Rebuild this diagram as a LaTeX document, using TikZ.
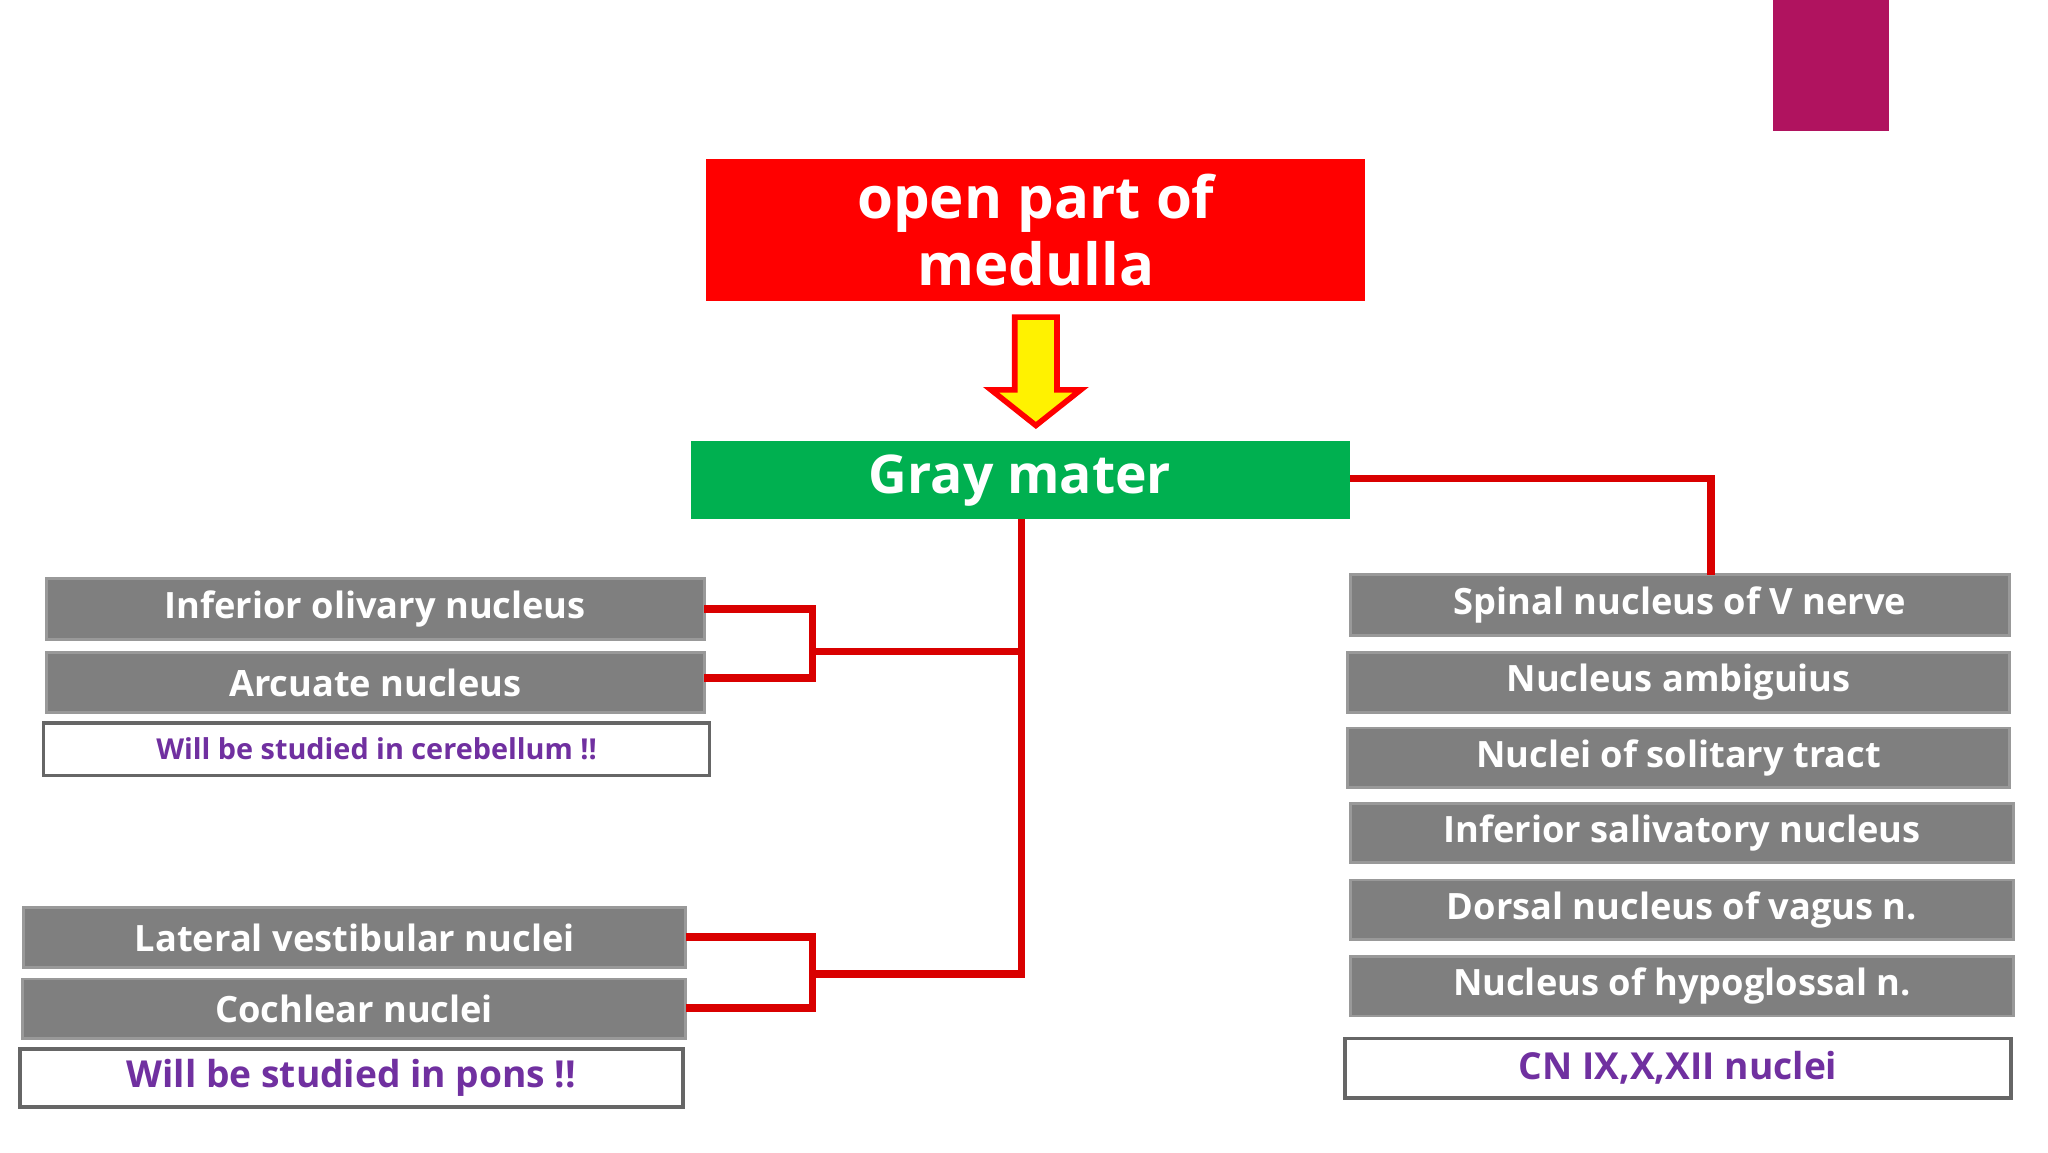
\documentclass[tikz,border=0pt]{standalone}
\usepackage{fontspec}
\setmainfont{Open Sans}
\definecolor{mag}{HTML}{B0135F}
\definecolor{gbox}{HTML}{7F7F7F}
\definecolor{grn}{HTML}{00B050}
\definecolor{pur}{HTML}{7030A0}
\begin{document}
\begin{tikzpicture}[x=0.01cm,y=-0.01cm,
  gb/.style={fill=gbox,draw=gbox!80!white,line width=0.6pt,text=white,font=\fontsize{7.8}{10}\selectfont\bfseries},
  wb/.style={fill=white,draw=gbox!80!black,line width=0.8pt,text=pur,font=\bfseries},
  ln/.style={draw=red!85!black,line width=1.6pt}]
\useasboundingbox (0,0) rectangle (1550,872);
\fill[mag] (1342,0) rectangle (1430,99);
\newcommand\bx[7]{\path[#1] (#2,#3) rectangle (#4,#5); \node[#1,draw=none,fill=none,inner sep=0] (#6) at ({(#2+#4)/2},{(#3+#5)/2}) {#7};}
\fill[red] (534,120) rectangle (1033,228);
\node[text=white,font=\fontsize{12.5}{14.5}\selectfont\bfseries,align=center] (top) at (784,174) {open part of\\medulla};
\draw[red,fill=yellow,line width=1.2pt] (768,240) -- (800,240) -- (800,295) -- (818,295) -- (784,322) -- (750,295) -- (768,295) -- cycle;
\coordinate (arr) at (784,322);
\fill[grn] (523,334) rectangle (1022,393);
\node[text=white,font=\fontsize{11.5}{14}\selectfont\bfseries] (gm) at (772,364) {Gray mater};
\bx{gb}{35}{438}{533}{484}{a}{Inferior olivary nucleus}
\bx{gb}{35}{494}{533}{539}{b}{Arcuate nucleus}
\bx{wb,font=\fontsize{6.2}{8}\selectfont\bfseries}{33}{547}{537}{587}{c}{Will be studied in cerebellum !!}
\bx{gb}{18}{687}{519}{732}{d}{Lateral vestibular nuclei}
\bx{gb}{17}{741}{519}{786}{e}{Cochlear nuclei}
\bx{wb,font=\fontsize{8}{10}\selectfont\bfseries}{15}{794}{517}{838}{f}{Will be studied in pons !!}
\bx{gb}{1022}{435}{1521}{481}{r1}{Spinal nucleus of V nerve}
\bx{gb}{1020}{494}{1521}{539}{r2}{Nucleus ambiguius}
\bx{gb}{1020}{551}{1521}{596}{r3}{Nuclei of solitary tract}
\bx{gb}{1022}{608}{1524}{653}{r4}{Inferior salivatory nucleus}
\bx{gb}{1022}{666}{1524}{711}{r5}{Dorsal nucleus of vagus n.}
\bx{gb}{1022}{724}{1524}{769}{r6}{Nucleus of hypoglossal n.}
\bx{wb,font=\fontsize{8}{10}\selectfont\bfseries}{1018}{786}{1522}{831}{r7}{CN IX,X,XII nuclei}
\draw[ln] (773,393) -- (773,737) -- (615,737);
\draw[ln] (533,461) -- (615,461) -- (615,513) -- (533,513);
\draw[ln] (615,493) -- (773,493);
\draw[ln] (519,709) -- (615,709) -- (615,763) -- (519,763);
\draw[ln] (1022,362) -- (1295,362) -- (1295,435);
\end{tikzpicture}
\end{document}
